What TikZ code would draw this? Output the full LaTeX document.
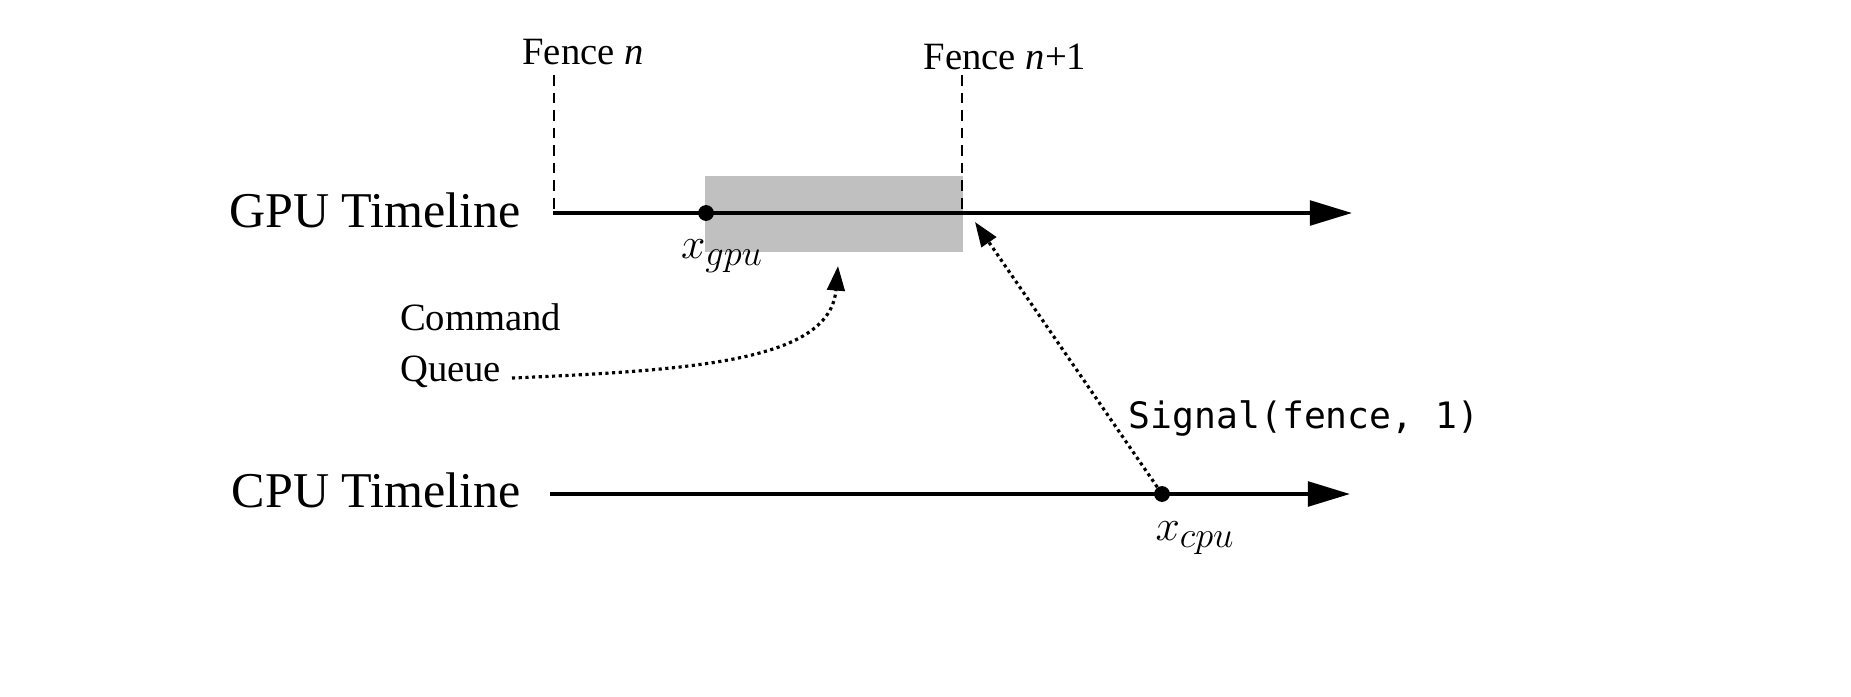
\documentclass[tikz,border=0pt]{standalone}
\usepackage{fontspec}
\setmainfont{Liberation Serif}
\setmonofont{DejaVu Sans Mono}
\usetikzlibrary{arrows.meta}
\begin{document}
\begin{tikzpicture}[x=0.02cm,y=-0.02cm,
  tl/.style={line width=2.2pt,-{Triangle[length=24pt,width=14pt]}},
  fence/.style={dashed,line width=1.3pt,dash pattern=on 6pt off 4pt},
  dotarr/.style={line width=1.8pt,dotted,-{Triangle[length=14pt,width=10pt]}},
  dot/.style={circle,fill=black,inner sep=0pt,minimum size=9pt},
  big/.style={font=\fontsize{28.5}{32}\selectfont},
  med/.style={font=\fontsize{22}{25}\selectfont}]
\useasboundingbox (0,0) rectangle (1851,696);
\fill[fill={rgb,255:red,192;green,192;blue,192}] (705,176) rectangle (963,252);
\node[big,anchor=east] (gl) at (527,210) {GPU Timeline};
\node[big,anchor=east] (cl) at (527,490) {CPU Timeline};
\coordinate (gs) at (553,213); \coordinate (ge) at (1352,213);
\coordinate (cs) at (550,494); \coordinate (ce) at (1350,494);
\draw[tl] (gs) -- (ge);
\draw[tl] (cs) -- (ce);
\node[med] (fn) at (583,52) {Fence \textit{n}};
\node[med] (fn1) at (1005,57) {Fence \textit{n}+1};
\coordinate (f1t) at (554,75); \coordinate (f1b) at (554,213);
\coordinate (f2t) at (962,75); \coordinate (f2b) at (962,213);
\draw[fence] (f1t) -- (f1b);
\draw[fence] (f2t) -- (f2b);
\node[dot] (xg) at (706,213) {};
\node[font=\fontsize{32}{36}\selectfont] (xgl) at (722,256) {$x_{gpu}$};
\node[dot] (xc) at (1162,494) {};
\node[font=\fontsize{32}{36}\selectfont] (xcl) at (1195,538) {$x_{cpu}$};
\coordinate (sigend) at (975,222);
\draw[dotarr] (xc) -- (sigend);
\node[font=\ttfamily\fontsize{20.7}{24}\selectfont] (sig) at (1304,418) {Signal(fence, 1)};
\node[med,align=left,anchor=west] (cq) at (394,346) {Command\\[4pt]Queue};
\coordinate (cqs) at (512,378); \coordinate (cqe) at (838,266);
\draw[dotarr] (cqs) .. controls (700,370) and (830,360) .. (cqe);
\end{tikzpicture}
\end{document}
